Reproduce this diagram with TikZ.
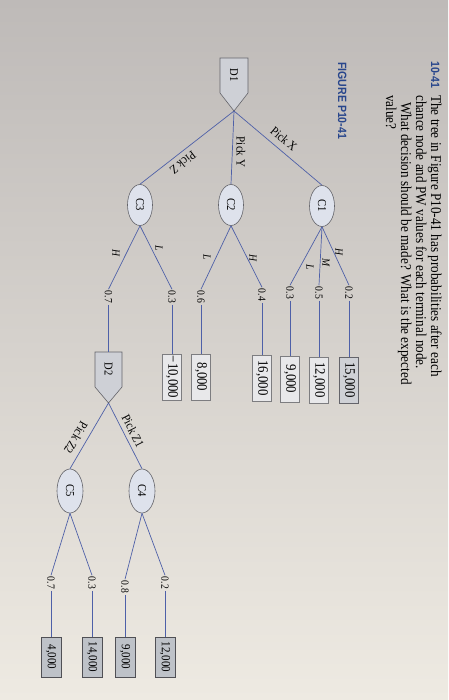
\documentclass[tikz,border=0pt]{standalone}
\usepackage{fontspec}
\setmainfont[FakeStretch=0.88]{Liberation Serif}
\newfontfamily\headsans[FakeStretch=0.88]{Liberation Sans}
\usetikzlibrary{shapes.geometric}
\definecolor{bgtop}{RGB}{190,186,184}
\definecolor{bgbot}{RGB}{238,234,226}
\definecolor{linecol}{RGB}{78,96,168}
\definecolor{chfill}{RGB}{222,226,236}
\definecolor{decfill}{RGB}{206,208,214}
\definecolor{nodegray}{RGB}{100,100,106}
\definecolor{boxfill}{RGB}{232,232,234}
\definecolor{boxfilldk}{RGB}{190,194,200}
\definecolor{boxdraw}{RGB}{125,125,128}
\definecolor{headblue}{RGB}{40,70,140}
\tikzset{
  chance/.style={ellipse, draw=nodegray, fill=chfill, line width=0.6pt,
    minimum width=41pt, minimum height=25pt, inner sep=0pt,
    font=\fontsize{12}{14}\selectfont},
  decis/.style={draw=nodegray, fill=decfill, line width=0.6pt},
  lbl/.style={font=\fontsize{12}{14}\selectfont, inner sep=1pt},
  picklbl/.style={font=\fontsize{12.5}{14}\selectfont, inner sep=1pt},
  brlbl/.style={font=\fontsize{11}{13}\selectfont\itshape, inner sep=0.5pt},
  prob/.style={font=\fontsize{11}{13}\selectfont, inner sep=1.5pt},
  valbox/.style={draw=boxdraw, fill=boxfill, line width=0.6pt,
    minimum width=46pt, minimum height=19pt, inner sep=0pt,
    font=\fontsize{14.5}{15}\selectfont},
  valboxb/.style={valbox, fill=boxfilldk, draw=nodegray!80!black,
    minimum width=40pt, minimum height=20pt, font=\fontsize{12.5}{14}\selectfont},
  conn/.style={draw=linecol, line width=0.7pt},
  bodytext/.style={anchor=base west, inner sep=0pt, font=\fontsize{15}{15}\selectfont},
}
\begin{document}
\begin{tikzpicture}[x=1pt,y=1pt]
\shade[top color=bgtop, bottom color=bgbot] (0,0) rectangle (448,-700);
\useasboundingbox (0,0) rectangle (448,-700);
\begin{scope}[rotate=-90, transform shape]
  % problem text
  \node[bodytext, font=\headsans\bfseries\fontsize{12}{14}\selectfont, text=headblue] (num) at (61,431) {10-41};
  \node[bodytext] (t1) at (95,431) {The tree in Figure P10-41 has probabilities after each};
  \node[bodytext] (t2) at (95,416) {chance node and PW values for each terminal node.};
  \node[bodytext] (t3) at (102,401) {What decision should be made? What is the expected};
  \node[bodytext] (t4) at (95,386) {value?};
  \node[bodytext, font=\headsans\bfseries\fontsize{12}{14}\selectfont, text=headblue] (fig) at (62,338) {FIGURE P10-41};

  % decision node D1
  \draw[decis] (58,220) -- (93,220) -- (111,234) -- (93,248) -- (58,248) -- cycle;
  \node[lbl] (D1) at (75,234) {D1};
  \coordinate (D1t) at (111,234);

  % chance nodes
  \node[chance] (C1) at (206,322) {C1};
  \node[chance] (C2) at (205,231) {C2};
  \node[chance] (C3) at (205,140) {C3};

  % decision node D2
  \draw[decis] (352,95) -- (387,95) -- (403,108.5) -- (387,122) -- (352,122) -- cycle;
  \node[lbl] (D2) at (369,108.5) {D2};
  \coordinate (D2w) at (352,108.5);
  \coordinate (D2t) at (403,108.5);

  \node[chance, minimum width=44pt, minimum height=26pt] (C4) at (491,142) {C4};
  \node[chance, minimum width=44pt, minimum height=26pt] (C5) at (491,70) {C5};

  % D1 branches
  \draw[conn] (D1t) -- (C1.west);
  \draw[conn] (D1t) -- (C2.west);
  \draw[conn] (D1t) -- (C3.west);
  \node[picklbl, rotate=49.7] (pX) at (139,284) {Pick X};
  \node[picklbl] (pY) at (152,241) {Pick Y};
  \node[picklbl, rotate=-52.2] (pZ) at (163,183) {Pick Z};

  % probabilities
  \node[prob] (p1) at (293,349) {0.2};
  \node[prob] (p2) at (293,319) {0.5};
  \node[prob] (p3) at (293,290) {0.3};
  \node[prob] (p4) at (295,262) {0.4};
  \node[prob] (p5) at (297,201) {0.6};
  \node[prob] (p6) at (297,172) {0.3};
  \node[prob] (p7) at (297,108.5) {0.7};

  \draw[conn] (C1.east) -- (p1.west);
  \draw[conn] (C1.east) -- (p2.west);
  \draw[conn] (C1.east) -- (p3.west);
  \draw[conn] (C2.east) -- (p4.west);
  \draw[conn] (C2.east) -- (p5.west);
  \draw[conn] (C3.east) -- (p6.west);
  \draw[conn] (C3.east) -- (p7.west);

  \node[brlbl] (h1) at (252,339) {H};
  \node[brlbl] (m1) at (263,326) {M};
  \node[brlbl] (l1) at (267,310) {L};
  \node[brlbl] (h2) at (258,253) {H};
  \node[brlbl] (l2) at (257,207) {L};
  \node[brlbl] (l3) at (248,159) {L};
  \node[brlbl] (h3) at (253,116) {H};

  % values
  \node[valbox, draw=nodegray, fill=boxfilldk!60!boxfill] (v1) at (380,349) {15,000};
  \node[valbox] (v2) at (380,319) {12,000};
  \node[valbox] (v3) at (379,290) {9,000};
  \node[valbox] (v4) at (378,262) {16,000};
  \node[valbox] (v5) at (377,201) {8,000};
  \node[valbox] (v6) at (377,172) {−10,000};

  \draw[conn] (p1.east) -- (v1.west);
  \draw[conn] (p2.east) -- (v2.west);
  \draw[conn] (p3.east) -- (v3.west);
  \draw[conn] (p4.east) -- (v4.west);
  \draw[conn] (p5.east) -- (v5.west);
  \draw[conn] (p6.east) -- (v6.west);
  \draw[conn] (p7.east) -- (D2w);

  % D2 branches
  \draw[conn] (D2t) -- (C4.west);
  \draw[conn] (D2t) -- (C5.west);
  \node[picklbl, rotate=26.9] (pZ1) at (431,133) {Pick Z1};
  \node[picklbl, rotate=-30.3] (pZ2) at (438,76) {Pick Z2};

  \node[prob] (p8) at (583,165) {0.2};
  \node[prob] (p9) at (587,125) {0.8};
  \node[prob] (p10) at (583,92) {0.3};
  \node[prob] (p11) at (583,51) {0.7};

  \draw[conn] (C4.east) -- (p8.west);
  \draw[conn] (C4.east) -- (p9.west);
  \draw[conn] (C5.east) -- (p10.west);
  \draw[conn] (C5.east) -- (p11.west);

  \node[valboxb] (v7) at (657,165) {12,000};
  \node[valboxb] (v8) at (657,125) {9,000};
  \node[valboxb] (v9) at (657,92) {14,000};
  \node[valboxb] (v10) at (657,51) {4,000};

  \draw[conn] (p8.east) -- (v7.west);
  \draw[conn] (p9.east) -- (v8.west);
  \draw[conn] (p10.east) -- (v9.west);
  \draw[conn] (p11.east) -- (v10.west);
\end{scope}
\end{tikzpicture}
\end{document}
